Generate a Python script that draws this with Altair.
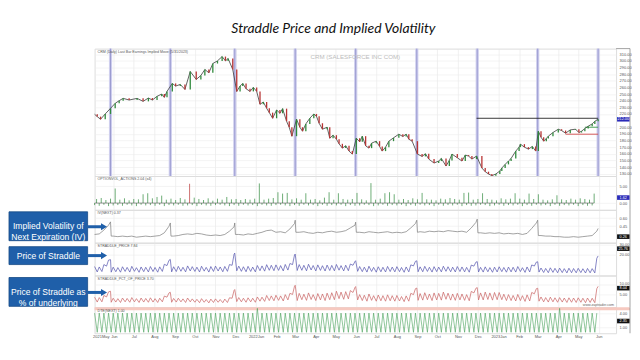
import altair as alt
import pandas as pd
import numpy as np

W = 524
H_MAIN, H2, H3, H4, H5, H6 = 128, 34, 33, 33, 32, 26

title_text = "Straddle Price and Implied Volatility"
watermark = "CRM (SALESFORCE INC COM)"

earnings = ["2021-05-27", "2021-08-25", "2021-11-30", "2022-03-01", "2022-05-31",
            "2022-08-31", "2022-11-30", "2023-03-01", "2023-05-31"]

price_dates = ["2021-05-03", "2021-05-07", "2021-05-12", "2021-05-19", "2021-05-27", "2021-06-03",
               "2021-06-09", "2021-06-15", "2021-06-24", "2021-07-06", "2021-07-15", "2021-07-23",
               "2021-07-29", "2021-08-05", "2021-08-12", "2021-08-16", "2021-08-20", "2021-08-28",
               "2021-09-02", "2021-09-09", "2021-09-16", "2021-09-24", "2021-10-03", "2021-10-10",
               "2021-10-16", "2021-10-22", "2021-10-28", "2021-11-04", "2021-11-11", "2021-11-16",
               "2021-11-20", "2021-11-27", "2021-12-03", "2021-12-08", "2021-12-12", "2021-12-17",
               "2021-12-23", "2021-12-28", "2022-01-02", "2022-01-07", "2022-01-12", "2022-01-17",
               "2022-01-21", "2022-01-26", "2022-02-01", "2022-02-06", "2022-02-10", "2022-02-16",
               "2022-02-20", "2022-02-24", "2022-03-03", "2022-03-08", "2022-03-12", "2022-03-17",
               "2022-03-23", "2022-03-29", "2022-04-02", "2022-04-06", "2022-04-11", "2022-04-18",
               "2022-04-22", "2022-04-27", "2022-05-02", "2022-05-06", "2022-05-11", "2022-05-16",
               "2022-05-21", "2022-05-26", "2022-06-01", "2022-06-06", "2022-06-10", "2022-06-15",
               "2022-06-20", "2022-06-24", "2022-07-01", "2022-07-06", "2022-07-10", "2022-07-15",
               "2022-07-20", "2022-07-27", "2022-08-04", "2022-08-10", "2022-08-15", "2022-08-19",
               "2022-08-24", "2022-09-01", "2022-09-08", "2022-09-13", "2022-09-18", "2022-09-26",
               "2022-10-03", "2022-10-07", "2022-10-14", "2022-10-19", "2022-10-23", "2022-10-31",
               "2022-11-07", "2022-11-12", "2022-11-17", "2022-11-22", "2022-11-29", "2022-12-07",
               "2022-12-12", "2022-12-17", "2022-12-22", "2022-12-28", "2023-01-03", "2023-01-06",
               "2023-01-11", "2023-01-16", "2023-01-20", "2023-01-27", "2023-02-01", "2023-02-03",
               "2023-02-09", "2023-02-15", "2023-02-21", "2023-02-26", "2023-03-02", "2023-03-06",
               "2023-03-10", "2023-03-14", "2023-03-17", "2023-03-24", "2023-04-01", "2023-04-06",
               "2023-04-12", "2023-04-19", "2023-04-27", "2023-05-02", "2023-05-06", "2023-05-11",
               "2023-05-16", "2023-05-22", "2023-05-26", "2023-05-31"]
price_close = [219.5, 216.0, 212.0, 220.0, 228.5, 236.0,
               240.0, 243.5, 241.0, 243.5, 239.0, 244.0,
               241.0, 246.5, 250.0, 245.0, 254.0, 266.0,
               262.0, 264.5, 257.0, 284.0, 272.0, 278.0,
               287.0, 282.0, 296.0, 300.0, 306.5, 300.0,
               303.5, 287.0, 254.0, 262.0, 266.0, 258.0,
               254.0, 260.0, 254.0, 234.5, 238.0, 228.5,
               222.0, 213.5, 226.0, 221.0, 228.0, 209.0,
               200.0, 186.5, 212.0, 200.0, 194.0, 205.0,
               213.5, 220.0, 216.5, 206.0, 197.0, 200.0,
               183.5, 188.0, 182.0, 175.0, 168.5, 172.0,
               164.0, 159.5, 183.5, 178.0, 186.5, 172.0,
               168.5, 176.0, 179.0, 171.0, 164.0, 170.0,
               179.0, 184.0, 189.5, 186.0, 189.5, 182.0,
               179.0, 159.5, 156.0, 160.0, 152.0, 146.0,
               149.0, 153.0, 141.5, 150.0, 159.5, 154.0,
               149.0, 158.0, 156.5, 152.0, 156.5, 138.5,
               133.0, 129.5, 127.0, 129.5, 134.0, 138.5,
               144.0, 149.0, 153.0, 164.0, 170.0, 174.5,
               170.0, 167.0, 171.0, 164.0, 194.0, 185.0,
               179.0, 183.0, 186.5, 192.0, 197.0, 195.0,
               191.0, 196.0, 197.0, 192.0, 194.0, 198.0,
               201.5, 205.0, 209.0, 212.0]

level_start = ["2022-11-29", "2023-04-12", "2023-05-11"]
level_end = ["2023-05-31", "2023-05-31", "2023-05-31"]
level_value = [213.5, 189.5, 200.0]
level_color = ["#222222", "#d04848", "#3a9a4a"]

# weekly expirations (Fridays) and the Monday of each week
fridays = pd.date_range("2021-05-07", periods=109, freq="7D")
mondays = fridays - pd.Timedelta(days=4)
thursdays = fridays - pd.Timedelta(days=1)

straddle_mon = [8.6, 8.2, 10.5, 14.8,
                8.0, 7.6, 8.4, 7.8, 8.8, 7.5, 8.2, 7.9, 8.6, 7.7, 8.3, 10.8, 14.6,
                8.4, 8.8, 7.9, 9.2, 8.5, 8.0, 8.9, 7.8, 8.6, 9.0, 8.2, 8.7, 10.5, 20.5,
                9.0, 8.4, 8.8, 8.1, 9.6, 9.2, 10.4, 9.8, 10.2, 9.5, 10.6, 11.5, 19.8,
                10.5, 9.8, 10.8, 9.6, 10.2, 9.4, 10.0, 9.7, 10.6, 9.5, 9.9, 11.0, 13.5,
                8.6, 8.0, 8.9, 7.8, 8.4, 7.9, 8.7, 8.1, 8.5, 7.7, 8.2, 10.2, 13.6,
                8.3, 8.8, 7.9, 8.5, 8.1, 8.9, 8.4, 8.0, 8.6, 8.2, 7.8, 10.0, 12.8,
                7.8, 8.3, 7.6, 8.0, 8.4, 7.7, 8.1, 7.9, 8.6, 7.5, 8.2, 10.1, 12.9,
                7.2, 6.8, 7.4, 6.9, 7.1, 6.6, 7.0, 6.7, 6.9, 6.5, 6.8, 6.6, 16.5]
straddle_fri = [3.4, 3.8, 9.0, 3.2,
                3.6, 3.2, 3.9, 3.3, 4.0, 3.1, 3.7, 3.4, 3.8, 3.2, 3.9, 9.5, 3.5,
                3.8, 4.1, 3.5, 4.4, 3.9, 3.4, 4.2, 3.3, 3.9, 4.3, 3.6, 4.0, 9.8, 4.5,
                4.0, 3.6, 3.9, 3.5, 4.6, 4.2, 5.0, 4.6, 4.9, 4.4, 5.2, 10.5, 4.8,
                5.0, 4.5, 5.3, 4.4, 4.9, 4.3, 4.8, 4.5, 5.1, 4.4, 4.6, 9.8, 4.0,
                3.7, 3.3, 3.9, 3.2, 3.6, 3.4, 3.8, 3.5, 3.7, 3.1, 3.5, 9.2, 3.6,
                3.6, 3.9, 3.3, 3.7, 3.5, 4.0, 3.6, 3.4, 3.8, 3.5, 3.2, 9.0, 3.4,
                3.3, 3.6, 3.1, 3.4, 3.7, 3.2, 3.5, 3.3, 3.8, 3.0, 3.4, 9.1, 3.3,
                2.9, 2.7, 3.0, 2.6, 2.8, 2.5, 2.7, 2.6, 2.8, 2.4, 2.6, 2.5]
straddle_earn = [15.2, 15.4, 21.5, 20.6, 14.2, 14.1, 13.3, 13.2, 18.8]

pct_mon = [3.8, 3.6, 4.6, 6.3,
           3.3, 3.1, 3.4, 3.2, 3.6, 3.1, 3.4, 3.2, 3.5, 3.1, 3.3, 4.3, 5.8,
           3.2, 3.3, 3.0, 3.4, 3.0, 2.8, 3.1, 2.7, 2.9, 3.0, 2.7, 2.9, 3.5, 7.0,
           3.6, 3.3, 3.5, 3.3, 3.9, 3.8, 4.6, 4.4, 4.7, 4.4, 5.0, 5.6, 9.0,
           5.6, 5.2, 5.8, 5.0, 5.5, 5.3, 5.7, 5.9, 6.6, 6.2, 6.4, 6.9, 8.4,
           5.0, 4.7, 5.3, 4.5, 4.8, 4.5, 4.9, 4.5, 4.6, 4.1, 4.4, 5.6, 7.8,
           5.5, 5.9, 5.3, 5.8, 5.6, 6.2, 5.7, 5.3, 5.6, 5.3, 5.0, 6.5, 8.0,
           5.8, 6.2, 5.8, 6.0, 6.0, 5.2, 5.0, 4.6, 5.1, 4.5, 4.9, 6.0, 7.8,
           3.9, 3.6, 3.8, 3.5, 3.6, 3.4, 3.5, 3.4, 3.5, 3.3, 3.4, 3.3, 7.8]
pct_fri = [1.5, 1.6, 3.9, 1.4,
           1.5, 1.3, 1.6, 1.4, 1.6, 1.3, 1.5, 1.4, 1.5, 1.3, 1.6, 3.8, 1.4,
           1.5, 1.6, 1.3, 1.6, 1.4, 1.2, 1.4, 1.1, 1.3, 1.4, 1.2, 1.3, 3.3, 1.7,
           1.6, 1.4, 1.6, 1.4, 1.9, 1.8, 2.2, 2.1, 2.3, 2.0, 2.5, 5.1, 2.2,
           2.6, 2.3, 2.7, 2.2, 2.5, 2.2, 2.6, 2.6, 3.1, 2.8, 3.0, 6.0, 2.5,
           2.2, 1.9, 2.3, 1.9, 2.1, 1.9, 2.1, 1.9, 2.0, 1.7, 1.9, 5.0, 2.3,
           2.4, 2.6, 2.2, 2.5, 2.4, 2.8, 2.4, 2.3, 2.5, 2.3, 2.1, 5.8, 2.5,
           2.5, 2.7, 2.4, 2.6, 2.6, 2.2, 2.2, 2.0, 2.2, 1.8, 2.0, 5.4, 1.9,
           1.6, 1.5, 1.6, 1.4, 1.5, 1.3, 1.4, 1.3, 1.4, 1.2, 1.3, 1.2]
pct_earn = [6.6, 6.1, 7.4, 9.4, 8.8, 8.1, 8.3, 8.0, 8.9]

iv_week = [0.30, 0.31, 0.38, 0.47,
           0.27, 0.26, 0.27, 0.26, 0.27, 0.25, 0.26, 0.27, 0.26, 0.27, 0.28, 0.33, 0.45,
           0.27, 0.28, 0.30, 0.31, 0.30, 0.32, 0.31, 0.29, 0.28, 0.29, 0.28, 0.30, 0.36, 0.44,
           0.30, 0.29, 0.31, 0.30, 0.32, 0.34, 0.37, 0.38, 0.34, 0.35, 0.33, 0.40, 0.50,
           0.34, 0.35, 0.33, 0.32, 0.34, 0.33, 0.35, 0.36, 0.34, 0.35, 0.37, 0.42, 0.47,
           0.34, 0.33, 0.35, 0.34, 0.33, 0.34, 0.35, 0.33, 0.34, 0.33, 0.35, 0.42, 0.50,
           0.35, 0.34, 0.36, 0.35, 0.36, 0.35, 0.37, 0.36, 0.35, 0.36, 0.34, 0.42, 0.52,
           0.33, 0.32, 0.33, 0.32, 0.33, 0.31, 0.32, 0.31, 0.32, 0.30, 0.32, 0.41, 0.51,
           0.28, 0.27, 0.27, 0.26, 0.26, 0.25, 0.25, 0.26, 0.25, 0.26, 0.27, 0.28, 0.36]
iv_earn_pre = [0.53, 0.51, 0.51, 0.56, 0.525, 0.56, 0.58, 0.56, 0.41]
iv_earn_post = [0.27, 0.27, 0.30, 0.34, 0.34, 0.34, 0.33, 0.28]

vol_spike = [1.2, 1.5, 0.9, 1.3, 4.3, 1.0, 1.4, 0.8, 1.2, 1.1,
             2.6, 2.9, 1.4, 1.8, 2.2, 1.0, 1.3, 0.9, 1.5, 1.1,
             5.7, 1.6, 1.2, 0.9, 1.4, 0.7, 1.3, 1.0, 1.8, 1.1,
             1.2, 0.9, 1.2, 1.0, 1.3, 5.8, 1.0, 1.3, 1.5, 3.2,
             2.8, 3.0, 1.1, 1.4, 1.0, 2.9, 1.0, 1.2, 0.8, 1.6,
             3.2, 1.0, 2.9, 1.2, 1.0, 1.2, 3.0, 1.1, 0.8, 5.9,
             1.0, 1.3, 2.9, 3.2, 2.6, 1.0, 1.2, 0.9, 1.4, 1.1,
             3.0, 1.1, 1.0, 0.8, 1.3, 1.1, 1.5, 1.2, 1.0, 3.0,
             3.1, 1.0, 1.2, 2.9, 1.2, 1.0, 0.8, 1.4, 1.1, 1.3,
             2.9, 1.3, 1.0, 2.8, 1.2, 2.6, 1.0, 0.8, 1.1, 2.3,
             1.1, 0.9, 1.3, 1.0, 1.4, 1.2, 1.0, 2.8]
vol_dip = [-0.6, -0.8, -0.5, -0.9, -0.7, -0.6, -0.8, -0.5, -0.7, -0.9,
           -0.5, -0.7, -0.6, -0.8, -0.5, -0.9, -0.6, -0.7, -0.5, -0.8,
           -0.7, -0.6, -0.9, -0.5, -0.7, -0.8, -0.6, -0.5, -0.7, -0.9,
           -0.6, -0.8, -0.5, -0.7, -0.6, -0.9, -0.5, -0.7, -0.8, -0.6,
           -0.5, -0.7, -0.9, -0.6, -0.8, -0.5, -0.7, -0.6, -0.9, -0.5,
           -0.8, -0.6, -0.7, -0.5, -0.9, -0.6, -0.8, -0.7, -0.5, -0.6,
           -0.9, -0.7, -0.5, -0.8, -0.6, -0.7, -0.5, -0.9, -0.6, -0.8,
           -0.5, -0.7, -0.6, -0.9, -0.5, -0.8, -0.6, -0.7, -0.5, -0.9,
           -0.6, -0.8, -0.7, -0.5, -0.6, -0.9, -0.7, -0.5, -0.8, -0.6,
           -0.7, -0.5, -0.9, -0.6, -0.8, -0.5, -0.7, -0.6, -0.9, -0.5,
           -0.8, -0.6, -0.7, -0.5, -0.9, -0.6, -0.8, -0.7]
green_spike_weeks = [20]

dte_mon = [4, 4, 4, 4, 4, 4, 4, 4, 4, 4, 4, 4, 4, 4, 4, 4, 4, 4, 4, 4,
           4, 4, 4, 4, 4, 4, 4, 4, 4, 4, 4, 4, 4, 4, 4, 5, 4, 4, 4, 4,
           4, 4, 4, 4, 4, 4, 4, 4, 4, 4, 4, 4, 4, 4, 4, 4, 4, 4, 4, 4,
           4, 4, 4, 4, 4, 4, 4, 4, 4, 4, 4, 4, 4, 4, 4, 4, 4, 4, 4, 4,
           4, 4, 4, 4, 4, 4, 4, 4, 4, 4, 4, 4, 4, 4, 4, 4, 4, 4, 4, 4,
           5, 4, 4, 4, 4, 4, 4, 4, 4]
dte_fri = [0, 0, 0, 0, 0, 0, 0, 0, 0, 0, 0, 0, 0, 0, 0, 0, 0, 0, 0, 0,
           0, 0, 0, 0, 0, 0, 0, 0, 0, 0, 0, 0, 0, 0, 0, 0, 0, 0, 0, 0,
           0, 0, 0, 0, 0, 0, 0, 0, 0, 0, 0, 0, 0, 0, 0, 0, 0, 0, 0, 0,
           0, 0, 0, 0, 0, 0, 0, 0, 0, 0, 0, 0, 0, 0, 0, 0, 0, 0, 0, 0,
           0, 0, 0, 0, 0, 0, 0, 0, 0, 0, 0, 0, 0, 0, 0, 0, 0, 0, 0, 0,
           0, 0, 0, 0, 0, 0, 0, 0]

# current-value tags on the right axes
tag_values = [212.0, 1.62, 0.26, 25.76, 8.04, 2.35]
tag_colors = ["#2a2ab8", "#2a2ab8", "#111111", "#111111", "#111111", "#111111"]

# right-axis label values per panel
main_ticks = [130, 140, 150, 160, 170, 180, 190, 200, 220, 230, 240, 250, 260, 270, 280, 290, 300, 310]
p2_ticks = [0, 5]
p3_ticks = [0.45, 0.60]
p4_ticks = [20, 30]
p5_ticks = [5, 10]
p6_ticks = [1, 4]

panel_headers = ["CRM (Daily)  Last Bar  Earnings Implied Move (5/31/2023)",
                 "OPTIONVOL_ACTIONS  2.04 (x4)",
                 "IV(NEXT)  0.37",
                 "STRADDLE_PRICE  7.84",
                 "STRADDLE_PCT_OF_PRICE  3.70",
                 "DTE(NEXT)  1.00"]

notes = ["Implied Volatility of\nNext Expiration (IV)", "Price of Straddle",
         "Price of Straddle as\n% of underlying"]

# ---------------------------------------------------------------- tables
edates = pd.to_datetime(earnings)
price_df = pd.DataFrame({"date": pd.to_datetime(price_dates), "close": price_close})
price_df["open"] = price_df["close"].shift(1).fillna(price_df["close"])
price_df["dir"] = np.where(price_df["close"] >= price_df["open"], "up", "down")

def weekly(mon_vals, fri_vals, extra_dates, extra_vals):
    d = list(mondays[:len(mon_vals)]) + list(fridays[:len(fri_vals)]) + list(extra_dates)
    v = list(mon_vals) + list(fri_vals) + list(extra_vals)
    return pd.DataFrame({"date": d, "v": v}).sort_values("date")

straddle_df = weekly(straddle_mon, straddle_fri, edates, straddle_earn)
pct_df = weekly(pct_mon, pct_fri, edates, pct_earn)
dte_df = weekly(dte_mon, dte_fri, [], [])
iv_df = pd.DataFrame({
    "date": list(mondays) + list(edates) + list(edates[:8] + pd.Timedelta(days=1)),
    "v": iv_week + iv_earn_pre + iv_earn_post}).sort_values("date")
vol_df = pd.DataFrame({
    "date": list(thursdays[:len(vol_spike)]) + list(mondays[:len(vol_dip)]),
    "v": vol_spike + vol_dip,
    "g": ["g" if i in green_spike_weeks else "k" for i in range(len(vol_spike))] + ["k"] * len(vol_dip)})
vol_df["z"] = 0.0
earn_df = pd.DataFrame({"date": edates})
level_df = pd.DataFrame({"s": pd.to_datetime(level_start), "e": pd.to_datetime(level_end),
                         "v": level_value, "c": level_color})

month_ticks = [alt.DateTime(year=int(d.year), month=int(d.month), date=1)
               for d in pd.date_range("2021-06-01", "2023-06-01", freq="MS")]
XS = alt.Scale(domain=[alt.DateTime(year=2021, month=5, date=3), alt.DateTime(year=2023, month=6, date=27)])
FONT = "Liberation Sans"

def xaxis(bottom):
    if bottom:
        return alt.Axis(values=[alt.DateTime(year=2021, month=5, date=3)] + month_ticks,
                        title=None, grid=True, gridColor="#e6e6e6", gridWidth=0.6,
                        ticks=False, domain=False, labelFontSize=4.0, labelColor="#555",
                        labelPadding=1.5, labelFlush=True, labelFlushOffset=2, labelFont=FONT,
                        labelOverlap=False,
                        labelExpr="(month(datum.value)==0 || datum.index==0) ? timeFormat(datum.value,'%Y%b') : timeFormat(datum.value,'%b')")
    return alt.Axis(values=month_ticks, title=None, grid=True, gridColor="#e6e6e6", gridWidth=0.6,
                    ticks=False, domain=False, labels=False)

def X(field, bottom=False):
    return alt.X(field, type="temporal", scale=XS, axis=xaxis(bottom))

def yaxis(vals):
    return alt.Axis(values=vals, orient="right", title=None, grid=True, gridColor="#ececec",
                    gridWidth=0.6, ticks=False, domain=False, format=".2f", labelOverlap=False,
                    labelFontSize=4.0, labelColor="#555", labelPadding=3, labelFont=FONT)

def Y(field, dom, vals):
    return alt.Y(field, type="quantitative", scale=alt.Scale(domain=dom, nice=False, zero=False),
                 axis=yaxis(vals))

one = pd.DataFrame({"k": [0]})

def header(i, h):
    layers = []
    layers.append(alt.Chart(pd.DataFrame({"t": [panel_headers[i]]})).mark_text(
        align="left", baseline="top", fontSize=3.6, color="#555", font=FONT).encode(
        x=alt.value(3), y=alt.value(1.5), text="t:N"))
    layers.append(alt.Chart(one).mark_rule(color="#8c8c8c", strokeWidth=0.8).encode(
        x=alt.value(W + 14), y=alt.value(0), y2=alt.value(h)))
    return layers

def tag(i, dom, vals):
    df = pd.DataFrame({"v": [tag_values[i]], "t": [f"{tag_values[i]:.2f}"]})
    box = alt.Chart(df).mark_rect(color=tag_colors[i], yOffset=-2.3, y2Offset=2.3).encode(
        x=alt.value(W + 1), x2=alt.value(W + 13.5), y=Y("v", dom, vals), y2=alt.Y2("v"))
    txt = alt.Chart(df).mark_text(color="white", fontSize=3.8, font=FONT, align="center",
                                  baseline="middle").encode(
        x=alt.value(W + 7.2), y=Y("v", dom, vals), text="t:N")
    return [box, txt]

def note(i, y0, y1, ya):
    df = pd.DataFrame({"t": [notes[i]]})
    box = alt.Chart(df).mark_rect(color="#1f5fa9", stroke="#164a86", strokeWidth=0.8).encode(
        x=alt.value(-86), x2=alt.value(-7), y=alt.value(y0), y2=alt.value(y1))
    txt = alt.Chart(df).mark_text(color="white", fontSize=8.6, font=FONT, align="center",
                                  baseline="middle", lineBreak="\n", lineHeight=11).encode(
        x=alt.value(-46.5), y=alt.value((y0 + y1) / 2), text="t:N")
    shaft = alt.Chart(df).mark_rule(color="#1f5fa9", strokeWidth=3).encode(
        x=alt.value(-7), x2=alt.value(8), y=alt.value(ya))
    head = alt.Chart(df).mark_point(shape="triangle-right", filled=True, size=50, opacity=1,
                                    color="#1f5fa9").encode(x=alt.value(9.5), y=alt.value(ya))
    return [box, txt, shaft, head]

# ---------------------------------------------------------------- main panel
PD = [126.5, 318.5]
main_layers = [
    alt.Chart(earn_df).mark_rule(color="#cfcfee", strokeWidth=3.2).encode(x=X("date")),
    alt.Chart(earn_df).mark_rule(color="#8585c4", strokeWidth=0.7).encode(x=X("date")),
    alt.Chart(level_df).mark_rule(strokeWidth=0.9).encode(
        x=X("s"), x2="e", y=Y("v", PD, main_ticks), color=alt.Color("c:N", scale=None)),
    alt.Chart(price_df).mark_line(color="#3a3a3a", strokeWidth=0.8).encode(
        x=X("date"), y=Y("close", PD, main_ticks)),
    alt.Chart(price_df).mark_rule(strokeWidth=1.3).encode(
        x=X("date"), y=Y("open", PD, main_ticks), y2="close",
        color=alt.Color("dir:N", scale=alt.Scale(domain=["up", "down"], range=["#2f8a3c", "#b83434"]),
                        legend=None)),
    alt.Chart(pd.DataFrame({"t": [watermark]})).mark_text(
        fontSize=6.2, color="#bdbdbd", font=FONT, align="center", baseline="middle").encode(
        x=alt.value(262), y=alt.value(8.5), text="t:N"),
    alt.Chart(pd.DataFrame({"t": [title_text]})).mark_text(
        fontSize=14, font="Lato", fontStyle="italic", color="#111", align="center",
        baseline="middle").encode(x=alt.value(240), y=alt.value(-20), text="t:N"),
    alt.Chart(one).mark_rule(color="#8c8c8c", strokeWidth=0.8).encode(
        x=alt.value(W), x2=alt.value(W + 14), y=alt.value(0)),
] + header(0, H_MAIN) + tag(0, PD, main_ticks)
main = alt.layer(*main_layers).properties(width=W, height=H_MAIN)

# ---------------------------------------------------------------- panel 2
D2 = [-2, 8]
p2 = alt.layer(
    alt.Chart(vol_df).mark_rule(strokeWidth=0.7).encode(
        x=X("date"), y=Y("z", D2, p2_ticks), y2="v",
        color=alt.Color("g:N", scale=alt.Scale(domain=["k", "g"], range=["#3a3a3a", "#2f8a3c"]), legend=None)),
    alt.Chart(vol_df).mark_line(color="#3a3a3a", strokeWidth=0.5).encode(
        x=X("date"), y=Y("z", D2, p2_ticks)),
    *header(1, H2), *tag(1, D2, p2_ticks)
).properties(width=W, height=H2)

# ---------------------------------------------------------------- panel 3
D3 = [0.15, 0.75]
p3 = alt.layer(
    alt.Chart(iv_df).mark_line(color="#7a7a7a", strokeWidth=0.7).encode(x=X("date"), y=Y("v", D3, p3_ticks)),
    *header(2, H3), *tag(2, D3, p3_ticks), *note(0, 2, 31, 17)
).properties(width=W, height=H3)

# ---------------------------------------------------------------- panel 4
D4 = [0, 31.5]
p4 = alt.layer(
    alt.Chart(straddle_df).mark_line(color="#5252ad", strokeWidth=0.7).encode(x=X("date"), y=Y("v", D4, p4_ticks)),
    *header(3, H4), *tag(3, D4, p4_ticks), *note(1, 4, 22, 13)
).properties(width=W, height=H4)

# ---------------------------------------------------------------- panel 5
D5 = [-1, 14]
p5 = alt.layer(
    alt.Chart(pct_df).mark_line(color="#c86060", strokeWidth=0.7).encode(x=X("date"), y=Y("v", D5, p5_ticks)),
    *header(4, H5), *tag(4, D5, p5_ticks), *note(2, 2, 31, 17)
).properties(width=W, height=H5)

# ---------------------------------------------------------------- panel 6
D6 = [-0.2, 5.2]
p6 = alt.layer(
    alt.Chart(one).mark_rect(color="#f6c9c0").encode(
        x=alt.value(0), x2=alt.value(W + 14), y=alt.value(0), y2=alt.value(3)),
    alt.Chart(dte_df).mark_line(color="#45a058", strokeWidth=0.6).encode(x=X("date", True), y=Y("v", D6, p6_ticks)),
    alt.Chart(pd.DataFrame({"t": ["www.zaptrader.com"]})).mark_text(
        fontSize=3.6, color="#666", font=FONT, align="right", baseline="bottom").encode(
        x=alt.value(W - 2), y=alt.value(0), text="t:N"),
    *header(5, H6), *tag(5, D6, p6_ticks)
).properties(width=W, height=H6)

chart = alt.vconcat(main, p2, p3, p4, p5, p6, spacing=0, bounds="flush").properties(
    padding={"left": 0, "top": 12, "right": 0, "bottom": 0}
).configure_view(stroke="#8c8c8c", strokeWidth=0.8).configure(background="white")

chart.save("out.html", embed_options={"renderer": "svg", "actions": False})
